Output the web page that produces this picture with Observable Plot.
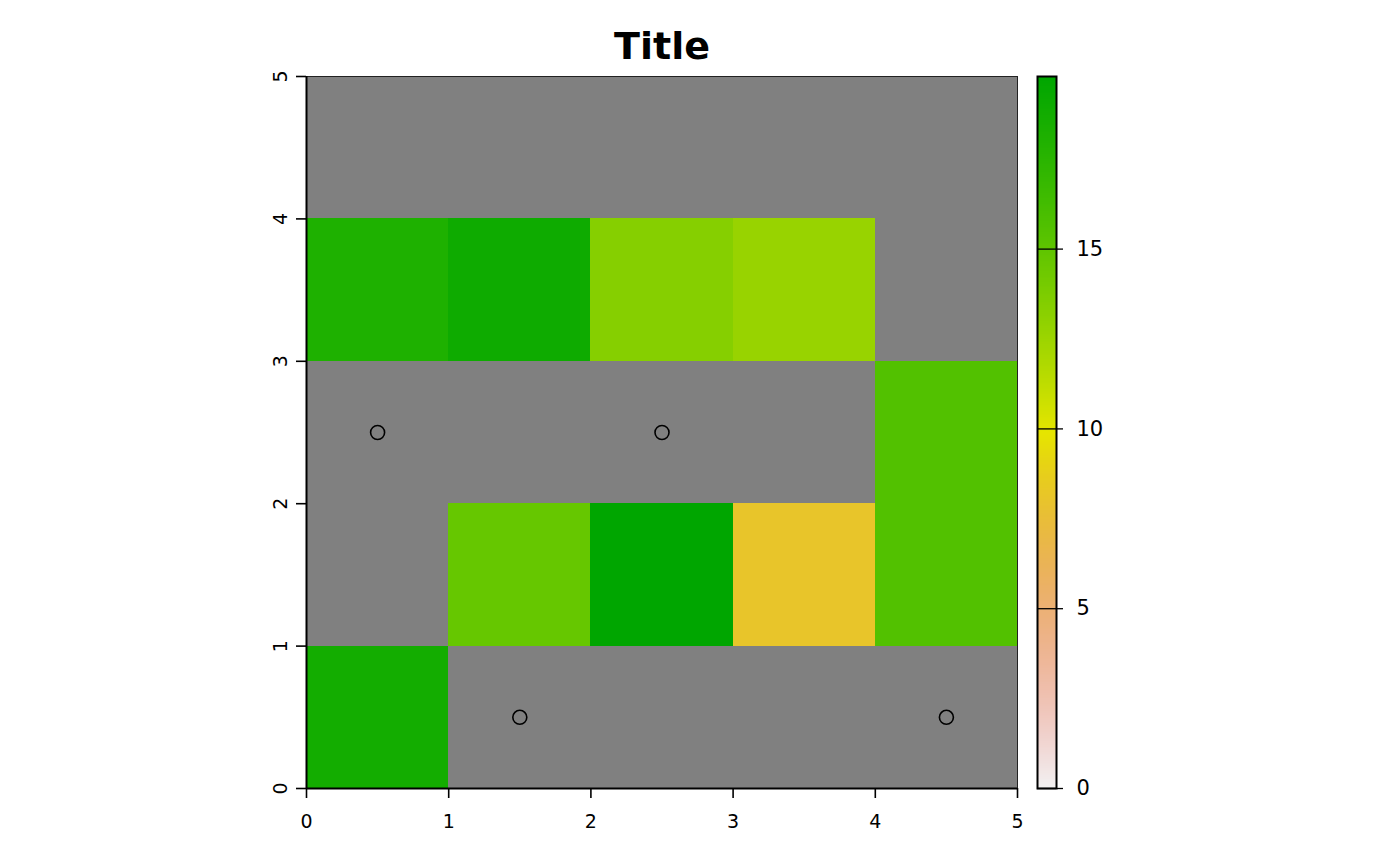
<!DOCTYPE html>
<html><head><meta charset="utf-8">
<script src="https://cdn.jsdelivr.net/npm/d3@7"></script>
<script src="https://cdn.jsdelivr.net/npm/@observablehq/plot@0.6"></script>
<style>
html,body{margin:0;padding:0;background:#fff;}
#wrap{position:relative;width:1400px;height:866px;font-family:"DejaVu Sans",sans-serif;}
#wrap svg{position:absolute;top:0;}
</style></head><body><div id="wrap"></div>
<script>
// ---- data ----
const title = "Title";
const colStarts = [0, 1, 2, 3, 4];          // cell left edges
const rowStarts = [4, 3, 2, 1, 0];          // cell bottom edges, top row first
const cellValues = [
  [null, null, null, null, null],
  [18.1, 19.0, 13.4, 12.7, null],
  [null, null, null, null, 15.6],
  [null, 14.7, 19.8, 8.1, 15.6],
  [18.7, null, null, null, null]
];
const pointX = [0.5, 2.5, 1.5, 4.5];
const pointY = [2.5, 2.5, 0.5, 0.5];
const axisTicks = [0, 1, 2, 3, 4, 5];
const legendTicks = [0, 5, 10, 15];
const colorDomain = [0, 19.8];

// ---- reversed R terrain.colors ----
function hsv2rgb(h, s, v) {
  const c = v * s, hp = h / 60, x = c * (1 - Math.abs((hp % 2) - 1));
  let r = 0, g = 0, b = 0;
  if (hp < 1) [r, g, b] = [c, x, 0];
  else if (hp < 2) [r, g, b] = [x, c, 0];
  else if (hp < 3) [r, g, b] = [0, c, x];
  else if (hp < 4) [r, g, b] = [0, x, c];
  else if (hp < 5) [r, g, b] = [x, 0, c];
  else [r, g, b] = [c, 0, x];
  const m = v - c;
  return d3.rgb((r + m) * 255, (g + m) * 255, (b + m) * 255).formatHex();
}
function terrainRev(t) {
  const s = 1 - Math.max(0, Math.min(1, t));
  if (s <= 0.5) { const u = s / 0.5; return hsv2rgb(120 - 60 * u, 1, 0.65 + 0.25 * u); }
  const u = (s - 0.5) / 0.5;
  return hsv2rgb(60 * (1 - u), 1 - u, 0.9 + 0.05 * u);
}

const cells = [];
rowStarts.forEach((y0, i) => colStarts.forEach((x0, j) => {
  cells.push({x1: x0, x2: x0 + 1, y1: y0, y2: y0 + 1, v: cellValues[i][j]});
}));
const points = pointX.map((x, i) => ({x, y: pointY[i]}));

const colorOpts = {type: "linear", domain: colorDomain, interpolate: terrainRev};
const font = "DejaVu Sans";

const main = Plot.plot({
  width: 1400, height: 866,
  marginLeft: 306, marginRight: 383, marginTop: 76, marginBottom: 78,
  x: {domain: [0, 5]}, y: {domain: [0, 5]},
  color: colorOpts,
  style: {fontFamily: font, fontSize: "19px", background: "transparent", color: "black"},
  marks: [
    Plot.rect(cells.filter(d => d.v == null), {x1: "x1", x2: "x2", y1: "y1", y2: "y2", fill: "#808080", shapeRendering: "crispEdges"}),
    Plot.rect(cells.filter(d => d.v != null), {x1: "x1", x2: "x2", y1: "y1", y2: "y2", fill: "v", shapeRendering: "crispEdges"}),
    Plot.frame({stroke: "#222", strokeWidth: 1}),
    Plot.ruleY([0], {stroke: "black", strokeWidth: 2}),
    Plot.ruleX([0], {stroke: "black", strokeWidth: 2}),
    Plot.dot(points, {x: "x", y: "y", r: 7, stroke: "black", strokeWidth: 1.6, fill: "none"}),
    Plot.axisX({ticks: axisTicks, tickSize: 10, tickPadding: 16, tickFormat: d => String(d), fontSize: 19, strokeWidth: 1.6}),
    Plot.axisY({ticks: axisTicks, tickSize: 10, tickPadding: 10, tickRotate: -90, tickFormat: d => String(d), fontSize: 19, strokeWidth: 1.6}),
    Plot.text([title], {frameAnchor: "top", dy: -44, fontSize: 38, fontWeight: "bold", fontFamily: font})
  ]
});

const legend = Plot.plot({
  width: 200, height: 866,
  marginLeft: 37, marginRight: 144, marginTop: 76, marginBottom: 78,
  x: {domain: [0, 1], axis: null},
  y: {domain: colorDomain, axis: null},
  color: colorOpts,
  style: {fontFamily: font, fontSize: "21px", background: "transparent", color: "black"},
  marks: [
    Plot.raster({fill: (x, y) => y, x1: 0, x2: 1, y1: colorDomain[0], y2: colorDomain[1], width: 1, height: 400}),
    Plot.ruleY(legendTicks, {x1: 0, x2: 1, stroke: "black", strokeWidth: 1.3}),
    Plot.frame({stroke: "black", strokeWidth: 2}),
    Plot.axisY({anchor: "right", ticks: legendTicks, tickSize: 6, tickPadding: 14, fontSize: 21, strokeWidth: 1.3, tickFormat: d => String(d)})
  ]
});

const wrap = document.getElementById("wrap");
main.style.left = "0px";
legend.style.left = "1000px";
wrap.appendChild(main);
wrap.appendChild(legend);
</script>
</body></html>
